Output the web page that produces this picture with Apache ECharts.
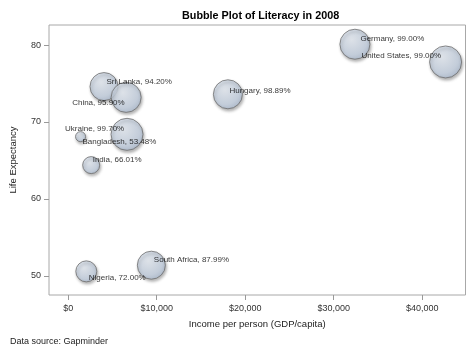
<!DOCTYPE html>
<html>
<head>
<meta charset="utf-8">
<script src="https://cdn.jsdelivr.net/npm/echarts@6/dist/echarts.min.js"></script>
<style>html,body{margin:0;padding:0;background:#fff;}#c{width:474px;height:355px;}</style>
</head>
<body>
<div id="c"></div>
<script>
const countries = ['Germany','United States','Hungary','Sri Lanka','China','Ukraine','Bangladesh','India','South Africa','Nigeria'];
const income = [32400, 42650, 18050, 4050, 6550, 1400, 6650, 2600, 9400, 2050];
const lifeExp = [80.1, 77.8, 73.6, 74.6, 73.2, 68.1, 68.4, 64.4, 51.4, 50.6];
const literacy = [99.00, 99.00, 98.89, 94.20, 95.90, 99.70, 53.48, 66.01, 87.99, 72.00];
const bubbleSize = [15, 16, 14.5, 14, 15, 5, 16, 8.5, 14, 10.5];
const xTicks = [0, 10000, 20000, 30000, 40000];
const yTicks = [50, 60, 70, 80];

// label placement relative to bubble centre (style only)
const labelPlace = {
  'Germany': ['left', [6, -5]],
  'United States': ['right', [-4, -6]],
  'Hungary': ['left', [2, -3]],
  'Sri Lanka': ['left', [3, -4]],
  'China': ['right', [-1, 6]],
  'Ukraine': ['left', [-15, -7]],
  'Bangladesh': ['left', [-44, 8]],
  'India': ['left', [2, -5]],
  'South Africa': ['left', [3, -5]],
  'Nigeria': ['left', [3, 7]]
};

const data = countries.map((c, i) => {
  const p = labelPlace[c];
  const r = bubbleSize[i];
  return {
    name: c,
    value: [income[i], lifeExp[i], bubbleSize[i], literacy[i]],
    label: { position: [r + p[1][0], r + p[1][1]], align: p[0], verticalAlign: 'middle' }
  };
});

const chart = echarts.init(document.getElementById('c'), null, {renderer: 'canvas'});
const axisText = {color: '#333', fontFamily: 'Liberation Sans, Arial, sans-serif', fontSize: 9};
chart.setOption({
  animation: false,
  backgroundColor: '#fff',
  title: {
    text: 'Bubble Plot of Literacy in 2008',
    left: 177, top: 6,
    textStyle: {fontFamily: 'Liberation Sans, Arial, sans-serif', fontSize: 10.8, fontWeight: 'bold', color: '#000'}
  },
  graphic: [{
    type: 'text', left: 10, top: 337,
    style: {text: 'Data source: Gapminder', fill: '#222', font: '9px "Liberation Sans", Arial, sans-serif'}
  }],
  grid: {left: 48.5, right: 8.5, top: 25, bottom: 60, show: true, borderColor: '#a8a8a8', borderWidth: 1, backgroundColor: 'transparent'},
  xAxis: {
    type: 'value', min: -2166, max: 44896,
    name: 'Income per person (GDP/capita)', nameLocation: 'middle', nameGap: 24,
    nameTextStyle: Object.assign({}, axisText, {fontSize: 9.5, color: '#222'}),
    splitLine: {show: false},
    axisLine: {show: false, onZero: false},
    axisTick: {show: true, length: 5, customValues: xTicks, lineStyle: {color: '#999'}},
    axisLabel: Object.assign({}, axisText, {margin: 9, customValues: xTicks,
      formatter: v => '$' + v.toLocaleString('en-US')})
  },
  yAxis: {
    type: 'value', min: 47.53, max: 82.6,
    name: 'Life Expectancy', nameLocation: 'middle', nameGap: 31, nameRotate: 90,
    nameTextStyle: Object.assign({}, axisText, {fontSize: 9.5, color: '#222'}),
    splitLine: {show: false},
    axisLine: {show: false, onZero: false},
    axisTick: {show: true, length: 5, customValues: yTicks, lineStyle: {color: '#999'}},
    axisLabel: Object.assign({}, axisText, {margin: 8, customValues: yTicks})
  },
  series: [{
    type: 'scatter',
    data: data,
    symbolSize: v => v[2] * 2,
    itemStyle: {
      color: {
        type: 'radial', x: 0.4, y: 0.35, r: 0.7,
        colorStops: [{offset: 0, color: '#e6ecf4'}, {offset: 0.7, color: '#c6d2e2'}, {offset: 1, color: '#a9b8cd'}]
      },
      borderColor: '#6e6e6e', borderWidth: 1,
      shadowBlur: 3, shadowOffsetX: 1, shadowOffsetY: 2, shadowColor: 'rgba(0,0,0,0.35)'
    },
    label: {
      show: true,
      formatter: p => p.name + ', ' + p.value[3].toFixed(2) + '%',
      color: '#000', fontSize: 8, fontFamily: 'Liberation Sans, Arial, sans-serif'
    },
    labelLayout: {hideOverlap: false},
    emphasis: {disabled: true}
  }]
});
</script>
</body>
</html>
